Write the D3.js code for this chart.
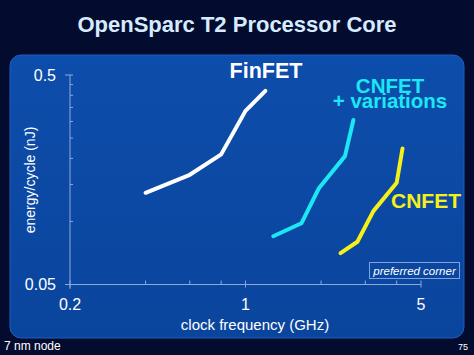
<!DOCTYPE html>
<html><head><meta charset="utf-8">
<script src="https://cdn.jsdelivr.net/npm/d3@7"></script>
<style>html,body{margin:0;padding:0;background:#030b2e;}svg{display:block;}</style>
</head><body>
<script>
// Data (clock frequency GHz, energy/cycle nJ)
const finfetFreq = [0.4, 0.6, 0.8, 1.0, 1.2];
const finfetEnergy = [0.137, 0.167, 0.209, 0.337, 0.42];
const cnfetVarFreq = [1.29, 1.67, 1.96, 2.49, 2.69];
const cnfetVarEnergy = [0.085, 0.098, 0.144, 0.205, 0.305];
const cnfetFreq = [2.39, 2.79, 3.23, 4.0, 4.22];
const cnfetEnergy = [0.0706, 0.080, 0.112, 0.153, 0.223];
const xMajorTicks = [0.2, 1, 5];
const xMinorTicks = [0.4, 0.6, 0.8, 2, 3, 4];
const yMajorTicks = [0.05, 0.5];
const yMinorTicks = [0.1, 0.15, 0.2, 0.25, 0.3, 0.35, 0.4, 0.45];

const W = 474, H = 355;
const svg = d3.select("body").append("svg").attr("width", W).attr("height", H);
svg.append("rect").attr("width", W).attr("height", H).attr("fill", "#030b2e");

const font = "Arial, 'Liberation Sans', sans-serif";

// Title
svg.append("text").attr("x", 237).attr("y", 32).attr("text-anchor", "middle")
  .attr("font-family", font).attr("font-weight", "bold").attr("font-size", 22)
  .attr("fill", "#d6ebff").text("OpenSparc T2 Processor Core");

// Panel
const defs = svg.append("defs");
const grad = defs.append("linearGradient").attr("id", "pg").attr("x1", 0).attr("y1", 0).attr("x2", 0).attr("y2", 1);
grad.append("stop").attr("offset", "0%").attr("stop-color", "#0d4dab");
grad.append("stop").attr("offset", "100%").attr("stop-color", "#0a459d");
svg.append("rect").attr("x", 10).attr("y", 55).attr("width", 454).attr("height", 283)
  .attr("rx", 11).attr("fill", "url(#pg)").attr("stroke", "#1f5fc0").attr("stroke-width", 1);

// Scales
const x = d3.scaleLog().domain([0.2, 5]).range([70, 421]);
const y = d3.scaleLog().domain([0.05, 0.5]).range([284.5, 75]);
const axisCol = "#8fa9d6";

// X axis
const xg = svg.append("g").attr("transform", "translate(0,284.5)");
xg.append("line").attr("x1", 65).attr("x2", 421).attr("stroke", axisCol).attr("stroke-width", 1);
xg.selectAll(".xmaj").data(xMajorTicks).join("line")
  .attr("x1", d => x(d)).attr("x2", d => x(d)).attr("y1", -4).attr("y2", 3)
  .attr("stroke", axisCol);
xg.selectAll(".xmin").data(xMinorTicks).join("line")
  .attr("x1", d => x(d)).attr("x2", d => x(d)).attr("y1", -4).attr("y2", 0)
  .attr("stroke", axisCol);
xg.selectAll(".xl").data(xMajorTicks).join("text")
  .attr("x", d => x(d)).attr("y", 25).attr("text-anchor", "middle")
  .attr("font-family", font).attr("font-size", 16).attr("fill", "#ffffff")
  .text(d => d3.format("~g")(d));

// Y axis
const yg = svg.append("g").attr("transform", "translate(70,0)");
yg.append("line").attr("y1", 75).attr("y2", 289).attr("stroke", axisCol).attr("stroke-width", 1);
yg.selectAll(".ymaj").data(yMajorTicks).join("line")
  .attr("y1", d => y(d)).attr("y2", d => y(d)).attr("x1", -5).attr("x2", 3)
  .attr("stroke", axisCol);
yg.selectAll(".ymin").data(yMinorTicks).join("line")
  .attr("y1", d => y(d)).attr("y2", d => y(d)).attr("x1", 0).attr("x2", 3)
  .attr("stroke", axisCol);
yg.selectAll(".yl").data(yMajorTicks).join("text")
  .attr("x", -14).attr("y", d => y(d)).attr("dy", "0.35em").attr("text-anchor", "end")
  .attr("font-family", font).attr("font-size", 16).attr("fill", "#ffffff")
  .text(d => d3.format("~g")(d));

// Axis titles
svg.append("text").attr("x", 255).attr("y", 330).attr("text-anchor", "middle")
  .attr("font-family", font).attr("font-size", 15).attr("fill", "#ffffff")
  .text("clock frequency (GHz)");
svg.append("text").attr("transform", "translate(35,180) rotate(-90)").attr("text-anchor", "middle")
  .attr("font-family", font).attr("font-size", 14).attr("fill", "#ffffff")
  .text("energy/cycle (nJ)");

// Lines
const line = d3.line().x(d => x(d[0])).y(d => y(d[1]));
const series = [
  {f: finfetFreq, e: finfetEnergy, c: "#ffffff"},
  {f: cnfetVarFreq, e: cnfetVarEnergy, c: "#1de6f5"},
  {f: cnfetFreq, e: cnfetEnergy, c: "#f5f01a"}
];
series.forEach(s => {
  svg.append("path").datum(s.f.map((v, i) => [v, s.e[i]]))
    .attr("d", line).attr("fill", "none").attr("stroke", s.c)
    .attr("stroke-width", 4).attr("stroke-linecap", "round").attr("stroke-linejoin", "round");
});

// Series labels
svg.append("text").attr("x", 266).attr("y", 78).attr("text-anchor", "middle")
  .attr("font-family", font).attr("font-weight", "bold").attr("font-size", 21.5)
  .attr("fill", "#ffffff").text("FinFET");
const cv = svg.append("text").attr("text-anchor", "middle")
  .attr("font-family", font).attr("font-weight", "bold").attr("font-size", 20.5)
  .attr("fill", "#1de6f5");
cv.append("tspan").attr("x", 390).attr("y", 93).text("CNFET");
cv.append("tspan").attr("x", 390).attr("y", 108).text("+ variations");
svg.append("text").attr("x", 426).attr("y", 208).attr("text-anchor", "middle")
  .attr("font-family", font).attr("font-weight", "bold").attr("font-size", 21)
  .attr("fill", "#f5f01a").text("CNFET");

// Preferred corner box
svg.append("rect").attr("x", 369.5).attr("y", 262.5).attr("width", 90).attr("height", 16)
  .attr("fill", "none").attr("stroke", "#7fa3dc").attr("stroke-width", 1);
svg.append("text").attr("x", 414.5).attr("y", 275).attr("text-anchor", "middle")
  .attr("font-family", font).attr("font-style", "italic").attr("font-size", 11.5)
  .attr("fill", "#ffffff").text("preferred corner");

// Footer
svg.append("text").attr("x", 4).attr("y", 350)
  .attr("font-family", font).attr("font-size", 12).attr("fill", "#ffffff").text("7 nm node");
svg.append("text").attr("x", 468).attr("y", 350).attr("text-anchor", "end")
  .attr("font-family", font).attr("font-size", 9).attr("fill", "#ffffff").text("75");
</script>
</body></html>
